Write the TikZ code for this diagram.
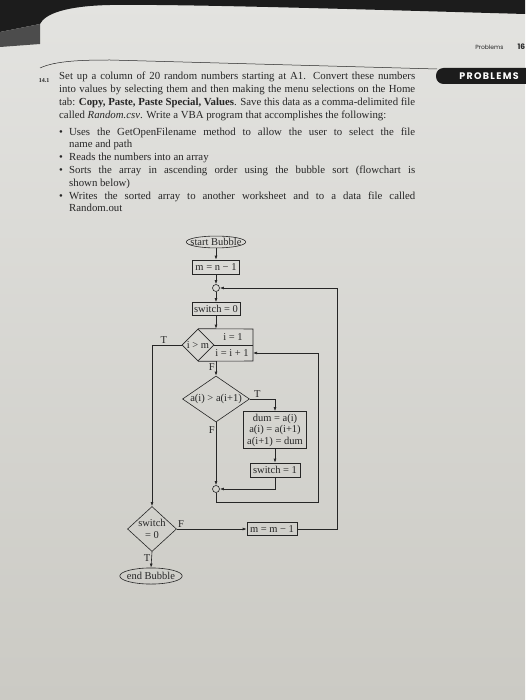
\documentclass[tikz,border=0pt]{standalone}
\usepackage{fontspec}
\setmainfont{Liberation Serif}
\newfontfamily\headfont{Poppins}
\usetikzlibrary{shapes.geometric,arrows.meta}

\definecolor{pagetop}{HTML}{E3E3E0}
\definecolor{pagebot}{HTML}{CBCAC4}
\definecolor{ink}{HTML}{262626}
\definecolor{desk}{HTML}{1C1C1C}

% one bullet of the task list
\newcommand{\probitem}[1]{\par\hangindent=10pt\hangafter=1\noindent\makebox[10pt][l]{\textbullet}#1\par}

\begin{document}
\begin{tikzpicture}[x=1pt,y=-1pt,
    every node/.style={text=ink},
    fl/.style={font=\fontsize{10.5}{11.5}\selectfont},
    proc/.style={fl,draw=ink,line width=0.6pt,rectangle,inner xsep=2pt,inner ysep=1.5pt},
    decide/.style={fl,draw=ink,line width=0.6pt,diamond,inner sep=0pt},
    term/.style={fl,draw=ink,line width=0.6pt,ellipse},
    joint/.style={draw=ink,line width=0.6pt,circle,inner sep=0pt,minimum size=7pt},
    lbl/.style={fl,inner sep=1pt},
    wire/.style={draw=ink,line width=0.6pt},
    arr/.style={wire,-{Latex[length=4pt,width=2.8pt]}}]
  \useasboundingbox (0,0) rectangle (525,700);

  % page and desk
  \shade[top color=pagetop,bottom color=pagebot] (0,0) rectangle (525,700);
  \fill[desk] (0,0) -- (525,0) -- (525,14) .. controls (350,9) and (180,4) .. (110,5)
    .. controls (65,6) and (45,14) .. (40,24) -- (0,32) -- cycle;
  \fill[gray!60!black] (0,32) -- (40,24) -- (40,44) -- (0,47) -- cycle;

  % running head
  \node[font=\headfont\fontsize{6}{7}\selectfont,anchor=east] (runhead) at (507,47) {Problems};
  \node[font=\headfont\bfseries\fontsize{7.5}{8}\selectfont,anchor=west] (pageno) at (514,47) {16};
  \fill[desk,rounded corners=7.5pt] (436,68) rectangle (560,84);
  \node[font=\headfont\bfseries\fontsize{9.5}{10}\selectfont\addfontfeatures{LetterSpace=14},text=white] (tab) at (489,76) {PROBLEMS};
  \draw[ink,line width=0.5pt] (40,68) .. controls (55,61) and (80,60) .. (110,60) -- (437,69);
  \node[font=\bfseries\fontsize{6}{7}\selectfont] (pnum) at (44,81) {14.1};

  % task text
  \node[anchor=north west,text width=356pt,align=justify,inner sep=0pt,
        font=\fontsize{10.8}{12.8}\selectfont] (task) at (59,72) {%
    Set up a column of 20 random numbers starting at A1. Convert these numbers\linebreak
    into values by selecting them and then making the menu selections on the Home\linebreak
    tab: \textbf{Copy, Paste, Paste Special, Values}. Save this data as a comma-delimited file\linebreak
    called \textit{Random.csv}. Write a VBA program that accomplishes the following:\par
    \vspace{4pt}
    \probitem{Uses the GetOpenFilename method to allow the user to select the file\linebreak name and path}
    \probitem{Reads the numbers into an array}
    \probitem{Sorts the array in ascending order using the bubble sort (flowchart is\linebreak shown below)}
    \probitem{Writes the sorted array to another worksheet and to a data file called\linebreak Random.out}};

  % flowchart
  \node[term,inner xsep=-4.5pt,inner ysep=0.5pt] (start) at (216,242) {start Bubble};
  \node[proc,minimum width=47pt,minimum height=14pt] (mn1) at (216,267) {m = n − 1};
  \node[joint] (j1) at (216,288) {};
  \node[proc,minimum width=47pt,minimum height=13pt] (sw0) at (216,309) {switch = 0};
  \node[decide,minimum width=32pt,minimum height=32pt] (loop) at (198,345) {i > m};
  \coordinate (boxtr) at (253,329);
  \coordinate (boxmr) at (253,345);
  \coordinate (boxbr) at (253,361);
  \coordinate (incrR) at (253,353);
  \draw[wire] (loop.north) -- (boxtr) -- (boxbr) -- (loop.south);
  \draw[wire] (loop.east) -- (boxmr);
  \node[fl] (init) at (233,337) {i = 1};
  \node[fl] (incr) at (232,353) {i = i + 1};
  \node[decide,aspect=1.45,minimum width=67pt,minimum height=46pt] (cmp) at (216,399) {a(i) > a(i+1)};
  \node[proc,align=center,minimum width=63pt,minimum height=37pt,inner ysep=1pt] (swap) at (275,430) {dum = a(i)\\ a(i) = a(i+1)\\ a(i+1) = dum};
  \node[proc,minimum width=50pt,minimum height=14pt] (sw1) at (275,470) {switch = 1};
  \node[joint] (j2) at (216,489) {};
  \node[decide,aspect=1.09,align=center,minimum width=49pt,minimum height=45pt] (swz) at (152,529) {switch\\= 0};
  \node[proc,minimum width=50pt,minimum height=13pt] (mm1) at (272,529) {m = m − 1};
  \node[term,inner xsep=-2pt,inner ysep=2pt] (endb) at (151,576) {end Bubble};

  \draw[arr] (start) -- (mn1);
  \draw[arr] (mn1) -- (j1);
  \draw[arr] (j1) -- (sw0);
  \draw[arr] (sw0) -- (sw0 |- loop.north);
  \draw[arr] (loop.west) -| node[lbl,pos=0.3,above] (lt1) {T} (swz.north);
  \draw[arr] (sw0 |- loop.south) -- node[lbl,left,pos=0.4] (lf1) {F} (cmp.north);
  \draw[arr] (cmp.east) -| node[lbl,pos=0.15,above] (lt2) {T} (swap.north);
  \draw[arr] (swap) -- (sw1);
  \draw[arr] (sw1.south) |- (j2.east);
  \draw[arr] (cmp.south) -- node[lbl,left,pos=0.12] (lf2) {F} (j2.north);
  \draw[arr] (j2.south) |- (318,502) |- (incrR);
  \draw[arr] (swz.east) -- node[lbl,above right,pos=0] (lf3) {F} (mm1.west);
  \draw[arr] (mm1.east) -- (337,529) |- (j1.east);
  \draw[arr] (swz.south) -- node[lbl,left,pos=0.4] (lt3) {T} (endb.north);
\end{tikzpicture}
\end{document}
